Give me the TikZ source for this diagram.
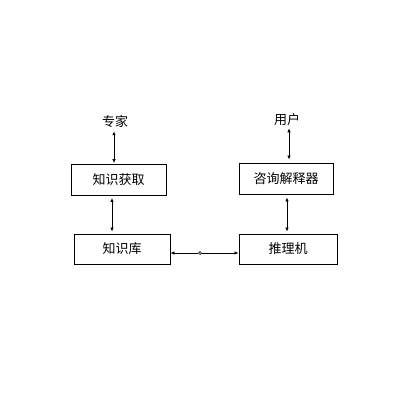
\documentclass[tikz,border=0pt]{standalone}
\usepackage{fontspec}
\newfontfamily\cjk{Noto Sans CJK SC}
\usetikzlibrary{arrows.meta}
\begin{document}
\begin{tikzpicture}[x=1pt,y=-1pt,
  box/.style={draw,line width=0.9pt,minimum width=#1,minimum height=31pt,inner sep=0pt,font=\cjk\fontsize{13}{14}\selectfont},
  lbl/.style={inner sep=0pt,font=\cjk\fontsize{13}{14}\selectfont},
  arr/.style={line width=0.8pt,{Latex[length=4pt,width=3.5pt]}-{Latex[length=4pt,width=3.5pt]}}]
\useasboundingbox (0,0) rectangle (403,402);
\fill[white] (0,0) rectangle (403,402);
\node[box=95pt] (zs) at (118.5,180) {知识获取};
\node[box=96pt,minimum height=30pt] (kb) at (122,249) {知识库};
\node[box=94pt] (zx) at (286,178.5) {咨询解释器};
\node[box=98pt,minimum height=30pt] (tl) at (288,249) {推理机};
\node[lbl] (zj) at (115,122) {专家};
\node[lbl] (yh) at (287,120) {用户};
\node[circle,draw,line width=0.7pt,inner sep=0pt,minimum size=3pt] (mid) at (200,253) {};
\draw[arr] ([xshift=-1pt,yshift=-3pt]zj.south) -- ([xshift=-4.5pt,yshift=1pt]zs.north);
\draw[arr] ([xshift=-6.5pt,yshift=-2pt]zs.south) -- ([xshift=-10pt,yshift=2pt]kb.north);
\draw[arr] ([xshift=2pt,yshift=-2pt]yh.south) -- ([xshift=3pt,yshift=3pt]zx.north);
\draw[arr] ([xshift=1pt,yshift=-3pt]zx.south) -- ([xshift=-1pt,yshift=2pt]tl.north);
\draw[line width=0.8pt,{Latex[length=4pt,width=3.5pt]}-] ([yshift=-4pt]kb.east) -- (mid);
\draw[line width=0.8pt,-{Latex[length=4pt,width=3.5pt]}] (mid) -- ([yshift=-4pt]tl.west);
\end{tikzpicture}
\end{document}
